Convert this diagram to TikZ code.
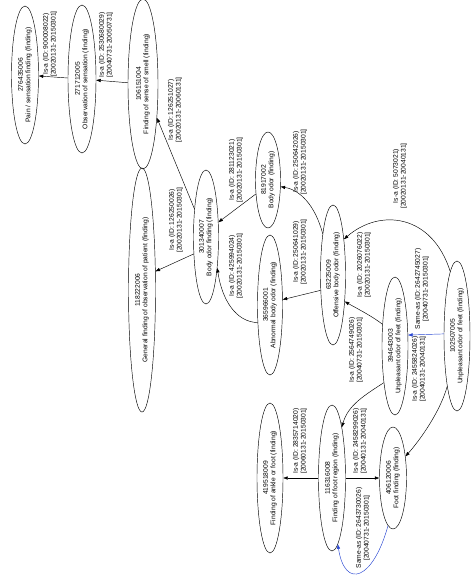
\documentclass[tikz,border=0pt]{standalone}
\usepackage{fontspec}
\setmainfont{Liberation Sans}
\usetikzlibrary{shapes.geometric,arrows.meta}
\definecolor{sameblue}{RGB}{40,70,210}

\begin{document}
\begin{tikzpicture}[x=1pt,y=-1pt,
    concept/.style={ellipse,draw,rotate=90,inner sep=0.5pt,align=center,line width=0.45pt,font=\fontsize{6.7}{7.6}\selectfont},
    rel/.style={rotate=90,inner sep=0pt,align=center,font=\fontsize{6.7}{7.6}\selectfont},
    isa/.style={line width=0.45pt,-{Triangle[length=4.5pt,width=3.2pt]}},
    sameas/.style={isa,color=sameblue}]
  \useasboundingbox (0,0) rectangle (474,576);
  \node[concept,minimum width=138pt,minimum height=27pt] (c276435006) at (25,75) {276435006\\Pain / sensation finding (finding)};
  \node[concept,minimum width=148pt,minimum height=28pt] (c271712005) at (82,79) {271712005\\Observation of sensation (finding)};
  \node[concept,minimum width=170pt,minimum height=30pt] (c106151004) at (143,84) {106151004\\Finding of sense of smell (finding)};
  \node[concept,minimum width=244pt,minimum height=27pt] (c118222006) at (142,290) {118222006\\General finding of observation of patient (finding)};
  \node[concept,minimum width=134pt,minimum height=25pt] (c301340007) at (206,237) {301340007\\Body odor finding (finding)};
  \node[concept,minimum width=96pt,minimum height=25pt] (c81917002) at (268,180) {81917002\\Body odor (finding)};
  \node[concept,minimum width=140pt,minimum height=25pt] (c365966001) at (270,305) {365966001\\Abnormal body odor (finding)};
  \node[concept,minimum width=140pt,minimum height=25pt] (c63225009) at (333,275) {63225009\\Offensive body odor (finding)};
  \node[concept,minimum width=138pt,minimum height=26pt] (c394643003) at (395,346) {394643003\\Unpleasant odor of feet (finding)};
  \node[concept,minimum width=150pt,minimum height=26pt] (c102507005) at (457,336) {102507005\\Unpleasant odor of feet (finding)};
  \node[concept,minimum width=150pt,minimum height=26pt] (c419518009) at (270,478) {419518009\\Finding of ankle or foot (finding)};
  \node[concept,minimum width=146pt,minimum height=27pt] (c116316008) at (332,478) {116316008\\Finding of foot region (finding)};
  \node[concept,minimum width=102pt,minimum height=27pt] (c406120006) at (393,478) {406120006\\Foot finding (finding)};

  \node[rel] (r900008022) at (50,44) {Is-a (ID: 900008022)\\{[20020131-20150301]}};
  \node[rel] (r2530680029) at (106,45) {Is-a (ID: 2530680029)\\{[20040731-20050731]}};
  \node[rel] (r126251027) at (175,110) {Is-a (ID: 126251027)\\{[20020131-20060131]}};
  \node[rel] (r126250026) at (176,220) {Is-a (ID: 126250026)\\{[20020131-20150301]}};
  \node[rel] (r281123021) at (236,170) {Is-a (ID: 281123021)\\{[20020131-20150301]}};
  \node[rel] (r425994024) at (236,266) {Is-a (ID: 425994024)\\{[20020131-20150301]}};
  \node[rel] (r250642026) at (300,162) {Is-a (ID: 250642026)\\{[20020131-20150301]}};
  \node[rel] (r250641029) at (300,252) {Is-a (ID: 250641029)\\{[20020131-20150301]}};
  \node[rel] (r2026076022) at (364,265) {Is-a (ID: 2026076022)\\{[20020131-20150301]}};
  \node[rel] (r5073021) at (400,176) {Is-a (ID: 5073021)\\{[20020131-20040131]}};
  \node[rel] (r2642745027) at (422,289) {Same-as (ID: 2642745027)\\{[20040731-20150301]}};
  \node[rel] (r2455824026) at (419,369) {Is-a (ID: 2455824026)\\{[20040131-20040131]}};
  \node[rel] (r2564749026) at (356,350) {Is-a (ID: 2564749026)\\{[20040731-20150301]}};
  \node[rel] (r2835714020) at (300,441) {Is-a (ID: 2835714020)\\{[20060131-20150301]}};
  \node[rel] (r2458299026) at (360,441) {Is-a (ID: 2458299026)\\{[20040131-20040131]}};
  \node[rel] (r2643730026) at (363,528) {Same-as (ID: 2643730026)\\{[20040731-20150301]}};

  \draw[isa] (c271712005) -- (c276435006);
  \draw[isa] (c106151004) -- (c271712005);
  \draw[isa] (c301340007) -- (c106151004);
  \draw[isa] (c301340007.144) -- (c118222006.-36);
  \draw[isa] (c81917002.139) -- (c301340007.-40);
  \draw[isa] (c365966001.145) .. controls (236,322) and (222,300) .. (c301340007.-160);
  \draw[isa] (c63225009.14) .. controls (315,205) and (300,190) .. (c81917002.-118);
  \draw[isa] (c63225009.141) -- (c365966001.-67);
  \draw[isa] (c394643003.30) .. controls (372,316) and (356,308) .. (c63225009.-156);
  \draw[isa] (c102507005.6) .. controls (432,214) and (380,208) .. (c63225009.-17);
  \draw[sameas] (c102507005.81) -- (c394643003.-50);
  \draw[isa] (c102507005.169) .. controls (440,412) and (420,440) .. (c406120006.-30);
  \draw[isa] (c394643003.163) .. controls (365,395) and (348,405) .. (c116316008.-11);
  \draw[isa] (c116316008) -- (c419518009);
  \draw[isa] (c116316008) -- (c406120006);
  \draw[sameas] (c406120006.174) .. controls (373,580) and (345,590) .. (c116316008.-175);
\end{tikzpicture}
\end{document}
